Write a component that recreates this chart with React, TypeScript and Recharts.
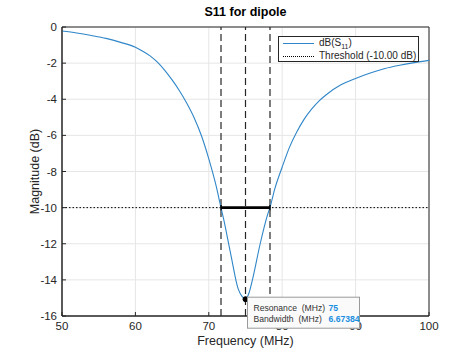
import { LineChart, Line, XAxis, YAxis, CartesianGrid, ReferenceLine, ReferenceArea, ReferenceDot } from 'recharts'

const freqs = [50, 52, 54, 56, 58, 60, 61, 62, 63, 64, 65, 66, 67, 68, 69, 70, 71, 71.66, 72, 73, 74, 74.5, 75, 75.5, 76, 77, 78, 78.33, 79, 80, 81, 82, 83, 84, 85, 86, 88, 90, 92, 94, 96, 98, 100]
const s11Db = [-0.22, -0.33, -0.47, -0.63, -0.85, -1.12, -1.34, -1.6, -1.95, -2.4, -2.93, -3.53, -4.22, -5.02, -6.02, -7.3, -8.8, -10, -10.6, -12.6, -14.5, -14.9, -15.07, -14.7, -13.9, -12.0, -10.4, -10, -8.95, -7.75, -6.65, -5.8, -5.1, -4.55, -4.1, -3.75, -3.2, -2.85, -2.55, -2.3, -2.12, -1.97, -1.85]
const xTicks = [50, 60, 70, 80, 90, 100]
const yTicks = [-16, -14, -12, -10, -8, -6, -4, -2, 0]

const resonance = 75
const resonanceDb = -15.07
const bandwidth = 6.67384
const threshold = -10
const bwLow = resonance - bandwidth / 2
const bwHigh = resonance + bandwidth / 2

const font = 'Liberation Sans, Arial, sans-serif'
const ink = '#262626'
const blue = '#2f86c8'

const data = freqs.map((f, i) => ({ f, db: s11Db[i] }))

function XTick({ x, y, payload }: any) {
  return (
    <g>
      <line x1={x} x2={x} y1={y} y2={y - 4} stroke={ink} />
      <text x={x} y={y + 14} textAnchor="middle" fontSize={11.5} fill={ink} fontFamily={font}>{payload.value}</text>
    </g>
  )
}

function YTick({ x, y, payload }: any) {
  return (
    <g>
      <line x1={x} x2={x + 4} y1={y} y2={y} stroke={ink} />
      <text x={x - 5} y={y + 4} textAnchor="end" fontSize={11.5} fill={ink} fontFamily={font}>{payload.value}</text>
    </g>
  )
}

function DataTip({ viewBox }: any) {
  const cx = viewBox.x + viewBox.width / 2
  const cy = viewBox.y + viewBox.height / 2
  const bx = cx + 2
  const by = cy - 2
  return (
    <g fontFamily={font} fontSize={8.6}>
      <rect x={bx} y={by} width={112} height={31} fill="#fafafa" stroke="#9a9a9a" />
      <text x={bx + 6} y={by + 14} fill="#333">{'Resonance\u00a0\u00a0(MHz)'}</text>
      <text x={bx + 81} y={by + 14} fill="#1a8fe0" fontWeight="bold">{resonance}</text>
      <text x={bx + 6} y={by + 25} fill="#333">{'Bandwidth\u00a0\u00a0(MHz)'}</text>
      <text x={bx + 81} y={by + 25} fill="#1a8fe0" fontWeight="bold">{bandwidth}</text>
    </g>
  )
}

export default function App() {
  return (
    <div style={{ position: 'absolute', left: 0, top: 0, width: 474, height: 355, background: '#fff', fontFamily: font }}>
      <div style={{ position: 'absolute', left: 62, top: 5, width: 367, textAlign: 'center', fontWeight: 'bold', fontSize: 12.5, color: '#000' }}>S11 for dipole</div>
      <LineChart width={474} height={355} data={data} margin={{ top: 27, right: 45, left: 0, bottom: 0 }}>
        <CartesianGrid stroke="#e6e6e6" />
        <XAxis
          dataKey="f"
          type="number"
          domain={[50, 100]}
          ticks={xTicks}
          height={39}
          tickSize={0}
          tickMargin={0}
          tick={<XTick />}
          axisLine={{ stroke: ink }}
          label={{ value: 'Frequency (MHz)', position: 'center', dy: 5, fontSize: 12.5, fill: ink, fontFamily: font }}
        />
        <YAxis
          type="number"
          domain={[-16, 0]}
          ticks={yTicks}
          width={62}
          tickSize={0}
          tickMargin={0}
          tick={<YTick />}
          axisLine={{ stroke: ink }}
          label={{ value: 'Magnitude (dB)', position: 'center', angle: -90, dx: 4, fontSize: 12.5, fill: ink, fontFamily: font }}
        />
        <ReferenceArea x1={50} x2={100} y1={-16} y2={0} fill="none" stroke={ink} strokeWidth={1} />
        <ReferenceLine y={threshold} stroke="#000" strokeDasharray="1.5 2" strokeWidth={1} />
        <ReferenceLine x={bwLow} stroke={ink} strokeDasharray="7 4" strokeWidth={1.2} />
        <ReferenceLine x={resonance} stroke={ink} strokeDasharray="7 4" strokeWidth={1.2} />
        <ReferenceLine x={bwHigh} stroke={ink} strokeDasharray="7 4" strokeWidth={1.2} />
        <Line type="monotone" dataKey="db" stroke={blue} strokeWidth={1.1} dot={false} isAnimationActive={false} />
        <ReferenceLine segment={[{ x: bwLow, y: threshold }, { x: bwHigh, y: threshold }]} stroke="#000" strokeWidth={2.6} />
        <ReferenceLine segment={[{ x: bwLow, y: threshold - 0.15 }, { x: bwLow, y: threshold + 0.15 }]} stroke="#000" strokeWidth={1.5} />
        <ReferenceLine segment={[{ x: bwHigh, y: threshold - 0.15 }, { x: bwHigh, y: threshold + 0.15 }]} stroke="#000" strokeWidth={1.5} />
      </LineChart>
      {/* overlay chart so the datatip sits above the axes */}
      <div style={{ position: 'absolute', left: 0, top: 0, pointerEvents: 'none' }}>
        <LineChart width={474} height={355} data={data} margin={{ top: 27, right: 45, left: 62, bottom: 39 }}>
          <XAxis dataKey="f" type="number" domain={[50, 100]} hide />
          <YAxis type="number" domain={[-16, 0]} hide />
          <Line type="monotone" dataKey="db" stroke="none" dot={false} isAnimationActive={false} />
          <ReferenceDot x={resonance} y={resonanceDb} r={2.5} fill="#000" stroke="#000" ifOverflow="visible" label={<DataTip />} />
        </LineChart>
      </div>
      <div style={{ position: 'absolute', left: 278, top: 36, width: 141, height: 26, border: `1px solid ${ink}`, background: '#fff', fontSize: 10, color: ink, boxSizing: 'border-box' }}>
        <div style={{ position: 'absolute', left: 4, top: 6, width: 31, borderTop: `1px solid ${blue}` }} />
        <div style={{ position: 'absolute', left: 40, top: 0, lineHeight: '12px', whiteSpace: 'nowrap' }}>dB(S<sub style={{ fontSize: 7 }}>11</sub>)</div>
        <div style={{ position: 'absolute', left: 4, top: 19, width: 31, borderTop: '1px dotted #000' }} />
        <div style={{ position: 'absolute', left: 40, top: 13, lineHeight: '12px', whiteSpace: 'nowrap' }}>Threshold (-10.00 dB)</div>
      </div>
    </div>
  )
}
